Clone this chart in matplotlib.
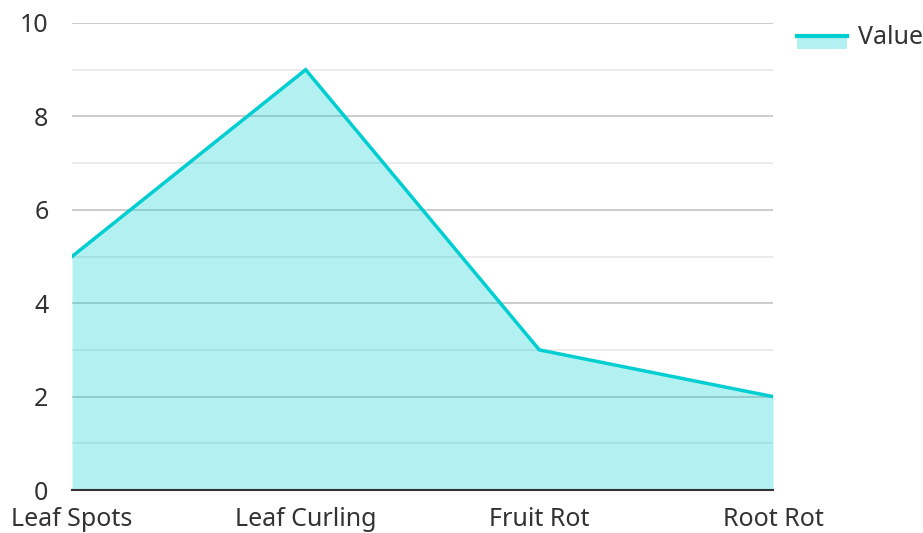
import matplotlib
matplotlib.use("Agg")
import matplotlib.pyplot as plt
from matplotlib.patches import Rectangle
from matplotlib.lines import Line2D
from matplotlib.legend_handler import HandlerBase

categories = ["Leaf Spots", "Leaf Curling", "Fruit Rot", "Root Rot"]
values = [5, 9, 3, 2]
series_name = "Value"
y_ticks = [0, 2, 4, 6, 8, 10]

line_color = "#00CED1"
plt.rcParams['font.family'] = ['Noto Sans', 'DejaVu Sans']

fig = plt.figure(figsize=(9.23, 5.33), dpi=100)
ax = fig.add_axes([72/923, 1-490/533, (773-72)/923, (490-23)/533])

x = list(range(len(categories)))
ax.fill_between(x, values, 0, color=line_color, alpha=0.3, linewidth=0, zorder=3)
ax.plot(x, values, color=line_color, linewidth=2.5, zorder=4, solid_joinstyle='miter')

ax.set_xlim(0, len(categories) - 1)
ax.set_ylim(0, 10)
ax.set_yticks(y_ticks)
ax.set_yticks([1, 3, 5, 7, 9], minor=True)
ax.set_xticks(x)
ax.set_xticklabels(categories)
ax.set_axisbelow(True)
ax.grid(axis='y', which='major', color='#c4c4c4', linewidth=1.2)
ax.grid(axis='y', which='minor', color='#e8e8e8', linewidth=1.2)
for s in ['left', 'right', 'top']:
    ax.spines[s].set_visible(False)
ax.spines['bottom'].set_color('#333333')
ax.spines['bottom'].set_linewidth(1.5)
ax.spines['bottom'].set_zorder(5)
ax.tick_params(axis='both', which='both', length=0, labelsize=18, colors='#333333')
ax.tick_params(axis='y', pad=17)
ax.tick_params(axis='x', pad=12)


class AreaHandler(HandlerBase):
    def create_artists(self, legend, orig_handle, xdescent, ydescent, width, height, fontsize, trans):
        bottom = -ydescent - 0.28 * height
        top = -ydescent + 0.46 * height
        rect = Rectangle((-xdescent, bottom), width, top - bottom, facecolor=line_color, alpha=0.3,
                         edgecolor='none', transform=trans)
        ln = Line2D([-xdescent, -xdescent + width], [top, top],
                    color=line_color, linewidth=3, transform=trans)
        return [rect, ln]


handle = Rectangle((0, 0), 1, 1)
leg = fig.legend([handle], [series_name], loc='upper left', bbox_to_anchor=(797/923, 1-25/533),
                 frameon=False, fontsize=18, handlelength=2.0, handletextpad=0.45,
                 borderaxespad=0, borderpad=0, handler_map={Rectangle: AreaHandler()})
for t in leg.get_texts():
    t.set_color('#333333')

fig.savefig("out.png", dpi=100)
